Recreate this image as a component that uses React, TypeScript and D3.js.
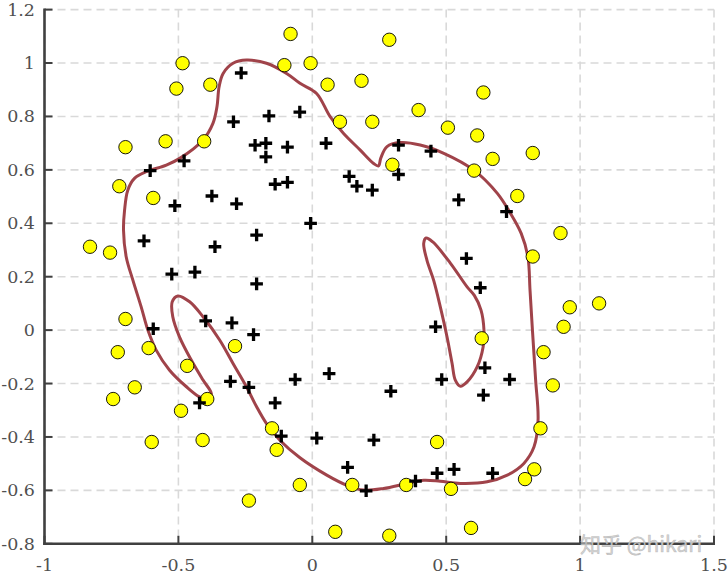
import React from "react";
import * as d3 from "d3";

// Accepted (+) points
const posX = [0.051267,-0.092742,-0.21371,-0.375,-0.51325,-0.52477,-0.39804,-0.30588,0.016705,0.13191,0.38537,0.52938,0.63882,0.73675,0.54666,0.322,0.16647,-0.046659,-0.17339,-0.47869,-0.60541,-0.62846,-0.59389,-0.42108,-0.11578,0.20104,0.46601,0.67339,-0.13882,-0.29435,-0.26555,-0.16187,-0.17339,-0.28283,-0.36348,-0.30012,-0.23675,-0.06394,0.062788,0.22984,0.2932,0.48329,0.64459,0.46025,0.6273,0.57546,0.72523,0.22408,0.44297,0.322,0.13767,-0.0063364,-0.092742,-0.20795,-0.20795,-0.43836,-0.21947,-0.13882];
const posY = [0.69956,0.68494,0.69225,0.50219,0.46564,0.2098,0.034357,-0.19225,-0.40424,-0.51389,-0.56506,-0.5212,-0.24342,-0.18494,0.48757,0.5826,0.53874,0.81652,0.69956,0.63377,0.59722,0.33406,0.005117,-0.27266,-0.39693,-0.60161,-0.53582,-0.53582,0.54605,0.77997,0.96272,0.8019,0.64839,0.47295,0.31213,0.027047,-0.21418,-0.18494,-0.16301,-0.41155,-0.2288,-0.18494,-0.14108,0.012427,0.15863,0.26827,0.44371,0.52412,0.67032,0.69225,0.57529,0.39985,0.55336,0.35599,0.17325,0.21711,-0.016813,-0.27266];

// Rejected (o) points
const negX = [0.18376,0.22408,0.29896,0.50634,0.61578,0.60426,0.76555,0.92684,0.82316,0.96141,0.93836,0.86348,0.89804,0.85196,0.82892,0.79435,0.59274,0.51786,0.46601,0.35081,0.28744,0.085829,0.14919,-0.13306,-0.40956,-0.39228,-0.74366,-0.69758,-0.75518,-0.69758,-0.4038,-0.38076,-0.50749,-0.54781,0.10311,0.057028,-0.10426,-0.081221,0.28744,0.39689,0.63882,0.82316,0.67339,1.0709,-0.046659,-0.23675,-0.15035,-0.49021,-0.46717,-0.28859,-0.61118,-0.66302,-0.59965,-0.72638,-0.83007,-0.72062,-0.59389,-0.48445,-0.0063364,0.63265];
const negY = [0.93348,0.77997,0.61915,0.75804,0.7288,0.59722,0.50219,0.3633,0.27558,0.085526,0.012427,-0.082602,-0.20687,-0.36769,-0.5212,-0.55775,-0.7405,-0.5943,-0.41886,-0.57968,-0.76974,-0.75512,-0.57968,-0.4481,-0.41155,-0.25804,-0.25804,0.041667,0.2902,0.68494,0.70687,0.91886,0.90424,0.70687,0.77997,0.91886,0.99196,1.1089,1.087,0.82383,0.88962,0.66301,0.64108,0.10015,-0.57968,-0.63816,-0.36769,-0.3019,-0.13377,-0.0599,-0.067251,-0.21418,-0.41886,-0.082602,0.31213,0.53874,0.49488,0.99927,0.99927,-0.030612];

// Decision boundary (main closed contour)
const boundX = [-0.246,-0.171,-0.096,-0.046,0.016,0.066,0.116,0.179,0.229,0.247,0.256,0.279,0.328,0.403,0.491,0.603,0.691,0.740,0.780,0.805,0.813,0.822,0.834,0.843,0.828,0.790,0.728,0.653,0.553,0.478,0.416,0.353,0.266,0.191,0.129,0.054,-0.046,-0.121,-0.171,-0.208,-0.246,-0.296,-0.346,-0.408,-0.458,-0.502,-0.523,-0.521,-0.496,-0.452,-0.408,-0.377,-0.383,-0.421,-0.470,-0.533,-0.583,-0.614,-0.639,-0.670,-0.695,-0.705,-0.701,-0.689,-0.664,-0.620,-0.545,-0.495,-0.408,-0.371,-0.356,-0.348,-0.333,-0.296];
const boundY = [1.011,0.999,0.961,0.924,0.886,0.80,0.737,0.674,0.624,0.615,0.645,0.687,0.702,0.693,0.662,0.599,0.512,0.437,0.362,0.275,0.15,0.0,-0.187,-0.337,-0.437,-0.499,-0.543,-0.568,-0.574,-0.566,-0.562,-0.574,-0.593,-0.599,-0.581,-0.543,-0.478,-0.412,-0.35,-0.287,-0.212,-0.125,-0.037,0.05,0.106,0.128,0.106,0.05,-0.025,-0.112,-0.187,-0.237,-0.262,-0.25,-0.212,-0.15,-0.075,0.0,0.087,0.187,0.275,0.375,0.449,0.524,0.568,0.593,0.618,0.643,0.712,0.774,0.836,0.911,0.961,0.999];

// Decision boundary (inner island contour)
const islandX = [0.425,0.450,0.516,0.578,0.605,0.630,0.641,0.638,0.616,0.578,0.553,0.534,0.522,0.503,0.478,0.453,0.428,0.416];
const islandY = [0.345,0.330,0.250,0.162,0.130,0.075,0.0,-0.062,-0.137,-0.194,-0.210,-0.187,-0.125,-0.025,0.087,0.187,0.262,0.325];

const xTicks = [-1, -0.5, 0, 0.5, 1, 1.5];
const yTicks = [-0.8, -0.6, -0.4, -0.2, 0, 0.2, 0.4, 0.6, 0.8, 1, 1.2];

export default function App() {
  const W = 728, H = 575;
  const x = d3.scaleLinear().domain([-1, 1.5]).range([44.5, 714]);
  const y = d3.scaleLinear().domain([-0.8, 1.2]).range([543.8, 9.6]);
  const line = d3
    .line<[number, number]>()
    .x((d) => x(d[0]))
    .y((d) => y(d[1]))
    .curve(d3.curveCatmullRomClosed.alpha(0.5));
  const mainPts: [number, number][] = boundX.map((v, i) => [v, boundY[i]]);
  const islandPts: [number, number][] = islandX.map((v, i) => [v, islandY[i]]);
  const axisColor = "#404040";
  const gridColor = "#d9d9d9";
  const font = "'DejaVu Serif', 'Liberation Serif', serif";
  const fmt = (v: number) => (v === 0 ? "0" : String(v));

  return (
    <svg width={W} height={H} style={{ position: "absolute", left: 0, top: 0, background: "#fff" }}>
      <rect x={0} y={0} width={W} height={H} fill="#fff" />
      {/* grid */}
      <g stroke={gridColor} strokeWidth={1.6} strokeDasharray="8,5" fill="none">
        {xTicks.map((t) => (
          <line key={"gx" + t} x1={x(t)} x2={x(t)} y1={y(1.2)} y2={y(-0.8)} />
        ))}
        {yTicks.map((t) => (
          <line key={"gy" + t} x1={x(-1)} x2={x(1.5)} y1={y(t)} y2={y(t)} />
        ))}
      </g>
      {/* boundary */}
      <path d={line(mainPts) || ""} fill="none" stroke="#a0434a" strokeWidth={3} />
      <path d={line(islandPts) || ""} fill="none" stroke="#a0434a" strokeWidth={3} />
      {/* negative points */}
      <g fill="#ffff00" stroke="#000" strokeWidth={0.9}>
        {negX.map((v, i) => (
          <circle key={"n" + i} cx={x(v)} cy={y(negY[i])} r={6.7} />
        ))}
      </g>
      {/* positive points */}
      <g stroke="#000" strokeWidth={3.3} fill="none">
        {posX.map((v, i) => {
          const cx = x(v), cy = y(posY[i]), s = 6.3;
          return (
            <path key={"p" + i} d={`M${cx - s},${cy}H${cx + s}M${cx},${cy - s}V${cy + s}`} />
          );
        })}
      </g>
      {/* axes */}
      <g stroke={axisColor} strokeWidth={2}>
        {yTicks.map((t) => (
          <line key={"ty" + t} x1={x(-1)} x2={x(-1) + 8} y1={y(t)} y2={y(t)} />
        ))}
        {xTicks.map((t) => (
          <line key={"tx" + t} x1={x(t)} x2={x(t)} y1={y(-0.8)} y2={y(-0.8) - 8} />
        ))}
      </g>
      <line x1={x(-1)} x2={x(-1)} y1={y(1.2) - 1} y2={y(-0.8) + 1.3} stroke={axisColor} strokeWidth={2.6} />
      <line x1={x(-1) - 1.3} x2={x(1.5) + 1} y1={y(-0.8)} y2={y(-0.8)} stroke={axisColor} strokeWidth={2.6} />
      {/* tick labels */}
      <g fill="#505050" fontFamily={font} fontSize={17.5}>
        {yTicks.map((t) => (
          <text key={"ly" + t} x={35} y={y(t)} textAnchor="end" dominantBaseline="central">
            {fmt(t)}
          </text>
        ))}
        {xTicks.map((t) => (
          <text key={"lx" + t} x={x(t)} y={571} textAnchor="middle">
            {fmt(t)}
          </text>
        ))}
      </g>
      {/* watermark */}
      <text
        x={580}
        y={552}
        fontFamily="'Noto Sans CJK SC', 'Noto Sans', sans-serif"
        fontSize={21}
        fill="#d0d0d0"
        fillOpacity={0.9}
        stroke="#9a9a9a"
        strokeOpacity={0.5}
        strokeWidth={0.6}
      >
        知乎 @hikari
      </text>
    </svg>
  );
}
